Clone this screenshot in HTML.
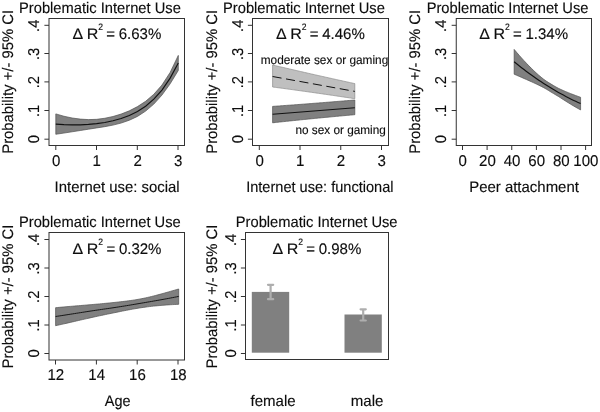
<!DOCTYPE html>
<html lang="en"><head><meta charset="utf-8"><title>Problematic Internet Use</title>
<style>html,body{margin:0;padding:0;background:#fff}svg{display:block}text{font-family:"Liberation Sans",sans-serif;fill:#0d0d0d;stroke:#0d0d0d;stroke-width:0.14px;text-rendering:geometricPrecision}</style>
</head><body>
<svg width="600" height="412" viewBox="0 0 600 412">
<rect width="600" height="412" fill="#ffffff"/>
<path d="M55.80,113.88 L63.97,116.25 L72.13,117.99 L80.30,119.11 L88.47,119.60 L96.63,119.33 L104.80,118.26 L112.97,116.51 L121.13,114.05 L129.30,110.83 L137.47,106.61 L145.63,101.30 L153.80,94.31 L161.97,85.04 L170.13,72.43 L178.30,55.41 L178.30,70.41 L170.13,83.83 L161.97,95.04 L153.80,104.11 L145.63,111.10 L137.47,116.41 L129.30,120.23 L121.13,123.05 L112.97,125.11 L104.80,126.66 L96.63,127.93 L88.47,129.20 L80.30,130.51 L72.13,131.79 L63.97,133.05 L55.80,134.28Z" fill="#808080" stroke="#505050" stroke-width="0.7" stroke-linejoin="miter"/>
<path d="M55.80,124.08 L63.97,124.65 L72.13,124.89 L80.30,124.81 L88.47,124.40 L96.63,123.63 L104.80,122.46 L112.97,120.81 L121.13,118.55 L129.30,115.53 L137.47,111.51 L145.63,106.20 L153.80,99.21 L161.97,90.04 L170.13,78.13 L178.30,62.91" fill="none" stroke="#111111" stroke-width="1.15"/>
<rect x="49" y="18.5" width="135.5" height="127.0" fill="none" stroke="#333333" stroke-width="1"/>
<line x1="44.4" y1="25.3" x2="49" y2="25.3" stroke="#333333" stroke-width="1"/>
<text x="39.20" y="31.91" font-size="15.7" textLength="12.31" lengthAdjust="spacingAndGlyphs" transform="rotate(-90 39.20 31.91)">.4</text>
<line x1="44.4" y1="53.5" x2="49" y2="53.5" stroke="#333333" stroke-width="1"/>
<text x="39.20" y="60.00" font-size="15.7" textLength="12.31" lengthAdjust="spacingAndGlyphs" transform="rotate(-90 39.20 60.00)">.3</text>
<line x1="44.4" y1="81.9" x2="49" y2="81.9" stroke="#333333" stroke-width="1"/>
<text x="39.20" y="88.36" font-size="15.7" textLength="12.31" lengthAdjust="spacingAndGlyphs" transform="rotate(-90 39.20 88.36)">.2</text>
<line x1="44.4" y1="110.5" x2="49" y2="110.5" stroke="#333333" stroke-width="1"/>
<text x="39.20" y="116.97" font-size="15.7" textLength="12.31" lengthAdjust="spacingAndGlyphs" transform="rotate(-90 39.20 116.97)">.1</text>
<line x1="44.4" y1="139.2" x2="49" y2="139.2" stroke="#333333" stroke-width="1"/>
<text x="39.20" y="143.30" font-size="15.7" textLength="8.21" lengthAdjust="spacingAndGlyphs" transform="rotate(-90 39.20 143.30)">0</text>
<line x1="55.8" y1="145.5" x2="55.8" y2="150.0" stroke="#333333" stroke-width="1"/>
<text x="51.91" y="165.70" font-size="15.7" textLength="8.38" lengthAdjust="spacingAndGlyphs">0</text>
<line x1="96.5" y1="145.5" x2="96.5" y2="150.0" stroke="#333333" stroke-width="1"/>
<text x="92.61" y="165.70" font-size="15.7" textLength="8.38" lengthAdjust="spacingAndGlyphs">1</text>
<line x1="137.3" y1="145.5" x2="137.3" y2="150.0" stroke="#333333" stroke-width="1"/>
<text x="133.41" y="165.70" font-size="15.7" textLength="8.38" lengthAdjust="spacingAndGlyphs">2</text>
<line x1="178" y1="145.5" x2="178" y2="150.0" stroke="#333333" stroke-width="1"/>
<text x="174.11" y="165.70" font-size="15.7" textLength="8.38" lengthAdjust="spacingAndGlyphs">3</text>
<text x="19.04" y="12.50" font-size="15.3" textLength="161.81" lengthAdjust="spacingAndGlyphs">Problematic Internet Use</text>
<text x="13.30" y="153.72" font-size="15.3" textLength="143.78" lengthAdjust="spacingAndGlyphs" transform="rotate(-90 13.30 153.72)">Probability +/- 95% CI</text>
<text x="54.62" y="192.20" font-size="15.3" textLength="125.07" lengthAdjust="spacingAndGlyphs">Internet use: social</text>
<text x="72.44" y="39.00" font-size="15.3" textLength="25.88" lengthAdjust="spacingAndGlyphs">Δ R</text>
<text x="98.17" y="30.00" font-size="9.4" textLength="4.76" lengthAdjust="spacingAndGlyphs">2</text>
<text x="106.37" y="39.00" font-size="15.3" textLength="8.77" lengthAdjust="spacingAndGlyphs">=</text>
<text x="118.74" y="39.00" font-size="15.3" textLength="42.60" lengthAdjust="spacingAndGlyphs">6.63%</text>
<path d="M272.60,65.00 L273.99,65.33 L275.39,65.65 L276.78,65.98 L278.17,66.31 L279.57,66.63 L280.96,66.96 L282.35,67.28 L283.75,67.61 L285.14,67.93 L286.53,68.26 L287.93,68.58 L289.32,68.90 L290.71,69.23 L292.11,69.55 L293.50,69.87 L294.89,70.19 L296.28,70.51 L297.68,70.83 L299.07,71.15 L300.46,71.47 L301.86,71.79 L303.25,72.11 L304.64,72.43 L306.04,72.75 L307.43,73.06 L308.82,73.38 L310.22,73.70 L311.61,74.01 L313.00,74.33 L314.40,74.64 L315.79,74.96 L317.18,75.27 L318.58,75.59 L319.97,75.90 L321.36,76.21 L322.76,76.53 L324.15,76.84 L325.54,77.15 L326.94,77.46 L328.33,77.77 L329.72,78.08 L331.12,78.39 L332.51,78.70 L333.90,79.01 L335.29,79.32 L336.69,79.63 L338.08,79.94 L339.47,80.25 L340.87,80.55 L342.26,80.86 L343.65,81.17 L345.05,81.47 L346.44,81.78 L347.83,82.08 L349.23,82.39 L350.62,82.69 L352.01,82.99 L353.41,83.30 L354.80,83.60 L354.80,98.70 L353.41,98.49 L352.01,98.27 L350.62,98.06 L349.23,97.85 L347.83,97.64 L346.44,97.43 L345.05,97.22 L343.65,97.01 L342.26,96.80 L340.87,96.59 L339.47,96.38 L338.08,96.18 L336.69,95.97 L335.29,95.76 L333.90,95.56 L332.51,95.35 L331.12,95.15 L329.72,94.94 L328.33,94.74 L326.94,94.54 L325.54,94.33 L324.15,94.13 L322.76,93.93 L321.36,93.73 L319.97,93.53 L318.58,93.33 L317.18,93.13 L315.79,92.93 L314.40,92.73 L313.00,92.53 L311.61,92.33 L310.22,92.13 L308.82,91.94 L307.43,91.74 L306.04,91.55 L304.64,91.35 L303.25,91.16 L301.86,90.96 L300.46,90.77 L299.07,90.57 L297.68,90.38 L296.28,90.19 L294.89,90.00 L293.50,89.81 L292.11,89.62 L290.71,89.43 L289.32,89.24 L287.93,89.05 L286.53,88.86 L285.14,88.67 L283.75,88.48 L282.35,88.30 L280.96,88.11 L279.57,87.92 L278.17,87.74 L276.78,87.55 L275.39,87.37 L273.99,87.18 L272.60,87.00Z" fill="#bfbfbf" stroke="#8c8c8c" stroke-width="0.7" stroke-linejoin="miter"/>
<path d="M272.60,76.50 L354.80,91.40" fill="none" stroke="#111111" stroke-width="1.0" stroke-dasharray="9.05 4.6"/>
<path d="M272.60,106.40 L273.99,106.30 L275.39,106.20 L276.78,106.10 L278.17,106.00 L279.57,105.90 L280.96,105.80 L282.35,105.70 L283.75,105.60 L285.14,105.50 L286.53,105.39 L287.93,105.29 L289.32,105.19 L290.71,105.09 L292.11,104.98 L293.50,104.88 L294.89,104.77 L296.28,104.67 L297.68,104.57 L299.07,104.46 L300.46,104.36 L301.86,104.25 L303.25,104.14 L304.64,104.04 L306.04,103.93 L307.43,103.82 L308.82,103.72 L310.22,103.61 L311.61,103.50 L313.00,103.39 L314.40,103.28 L315.79,103.18 L317.18,103.07 L318.58,102.96 L319.97,102.85 L321.36,102.74 L322.76,102.63 L324.15,102.52 L325.54,102.41 L326.94,102.29 L328.33,102.18 L329.72,102.07 L331.12,101.96 L332.51,101.85 L333.90,101.73 L335.29,101.62 L336.69,101.51 L338.08,101.39 L339.47,101.28 L340.87,101.16 L342.26,101.05 L343.65,100.93 L345.05,100.82 L346.44,100.70 L347.83,100.59 L349.23,100.47 L350.62,100.35 L352.01,100.24 L353.41,100.12 L354.80,100.00 L354.80,114.70 L353.41,114.82 L352.01,114.95 L350.62,115.07 L349.23,115.20 L347.83,115.32 L346.44,115.45 L345.05,115.58 L343.65,115.70 L342.26,115.83 L340.87,115.96 L339.47,116.09 L338.08,116.22 L336.69,116.35 L335.29,116.48 L333.90,116.61 L332.51,116.74 L331.12,116.87 L329.72,117.00 L328.33,117.13 L326.94,117.27 L325.54,117.40 L324.15,117.53 L322.76,117.67 L321.36,117.80 L319.97,117.94 L318.58,118.07 L317.18,118.21 L315.79,118.34 L314.40,118.48 L313.00,118.62 L311.61,118.76 L310.22,118.89 L308.82,119.03 L307.43,119.17 L306.04,119.31 L304.64,119.45 L303.25,119.59 L301.86,119.73 L300.46,119.87 L299.07,120.02 L297.68,120.16 L296.28,120.30 L294.89,120.44 L293.50,120.59 L292.11,120.73 L290.71,120.88 L289.32,121.02 L287.93,121.17 L286.53,121.31 L285.14,121.46 L283.75,121.61 L282.35,121.76 L280.96,121.90 L279.57,122.05 L278.17,122.20 L276.78,122.35 L275.39,122.50 L273.99,122.65 L272.60,122.80Z" fill="#808080" stroke="#505050" stroke-width="0.7" stroke-linejoin="miter"/>
<path d="M272.60,114.20 L354.80,107.80" fill="none" stroke="#111111" stroke-width="1.15"/>
<rect x="252.5" y="18.5" width="136.0" height="127.0" fill="none" stroke="#333333" stroke-width="1"/>
<line x1="247.9" y1="25.3" x2="252.5" y2="25.3" stroke="#333333" stroke-width="1"/>
<text x="242.70" y="31.91" font-size="15.7" textLength="12.31" lengthAdjust="spacingAndGlyphs" transform="rotate(-90 242.70 31.91)">.4</text>
<line x1="247.9" y1="53.5" x2="252.5" y2="53.5" stroke="#333333" stroke-width="1"/>
<text x="242.70" y="60.00" font-size="15.7" textLength="12.31" lengthAdjust="spacingAndGlyphs" transform="rotate(-90 242.70 60.00)">.3</text>
<line x1="247.9" y1="81.9" x2="252.5" y2="81.9" stroke="#333333" stroke-width="1"/>
<text x="242.70" y="88.36" font-size="15.7" textLength="12.31" lengthAdjust="spacingAndGlyphs" transform="rotate(-90 242.70 88.36)">.2</text>
<line x1="247.9" y1="110.5" x2="252.5" y2="110.5" stroke="#333333" stroke-width="1"/>
<text x="242.70" y="116.97" font-size="15.7" textLength="12.31" lengthAdjust="spacingAndGlyphs" transform="rotate(-90 242.70 116.97)">.1</text>
<line x1="247.9" y1="139.2" x2="252.5" y2="139.2" stroke="#333333" stroke-width="1"/>
<text x="242.70" y="143.30" font-size="15.7" textLength="8.21" lengthAdjust="spacingAndGlyphs" transform="rotate(-90 242.70 143.30)">0</text>
<line x1="259.3" y1="145.5" x2="259.3" y2="150.0" stroke="#333333" stroke-width="1"/>
<text x="255.41" y="165.70" font-size="15.7" textLength="8.38" lengthAdjust="spacingAndGlyphs">0</text>
<line x1="300" y1="145.5" x2="300" y2="150.0" stroke="#333333" stroke-width="1"/>
<text x="296.11" y="165.70" font-size="15.7" textLength="8.38" lengthAdjust="spacingAndGlyphs">1</text>
<line x1="340.75" y1="145.5" x2="340.75" y2="150.0" stroke="#333333" stroke-width="1"/>
<text x="336.86" y="165.70" font-size="15.7" textLength="8.38" lengthAdjust="spacingAndGlyphs">2</text>
<line x1="381.5" y1="145.5" x2="381.5" y2="150.0" stroke="#333333" stroke-width="1"/>
<text x="377.61" y="165.70" font-size="15.7" textLength="8.38" lengthAdjust="spacingAndGlyphs">3</text>
<text x="223.04" y="12.50" font-size="15.3" textLength="161.81" lengthAdjust="spacingAndGlyphs">Problematic Internet Use</text>
<text x="216.80" y="153.72" font-size="15.3" textLength="143.78" lengthAdjust="spacingAndGlyphs" transform="rotate(-90 216.80 153.72)">Probability +/- 95% CI</text>
<text x="246.16" y="192.20" font-size="15.3" textLength="147.32" lengthAdjust="spacingAndGlyphs">Internet use: functional</text>
<text x="275.94" y="39.00" font-size="15.3" textLength="25.88" lengthAdjust="spacingAndGlyphs">Δ R</text>
<text x="301.67" y="30.00" font-size="9.4" textLength="4.76" lengthAdjust="spacingAndGlyphs">2</text>
<text x="309.87" y="39.00" font-size="15.3" textLength="8.77" lengthAdjust="spacingAndGlyphs">=</text>
<text x="322.24" y="39.00" font-size="15.3" textLength="42.60" lengthAdjust="spacingAndGlyphs">4.46%</text>
<text x="260.71" y="63.80" font-size="12.2" textLength="127.55" lengthAdjust="spacingAndGlyphs">moderate sex or gaming</text>
<text x="295.42" y="134.30" font-size="12.2" textLength="90.44" lengthAdjust="spacingAndGlyphs">no sex or gaming</text>
<path d="M514.16,49.42 L516.62,52.34 L519.08,55.18 L521.54,57.96 L524.00,60.67 L526.46,63.31 L528.92,65.87 L531.38,68.34 L533.84,70.73 L536.30,73.02 L538.76,75.21 L541.22,77.29 L543.68,79.25 L546.14,81.03 L548.60,82.57 L551.06,84.08 L553.52,85.55 L555.98,86.99 L558.44,88.33 L560.90,89.49 L563.36,90.59 L565.82,91.64 L568.28,92.65 L570.74,93.63 L573.20,94.58 L575.66,95.51 L578.12,96.41 L580.58,97.30 L580.58,109.90 L578.12,108.55 L575.66,107.16 L573.20,105.72 L570.74,104.25 L568.28,102.74 L565.82,101.20 L563.36,99.64 L560.90,98.06 L558.44,96.48 L555.98,94.99 L553.52,93.55 L551.06,92.08 L548.60,90.57 L546.14,89.03 L543.68,87.65 L541.22,86.38 L538.76,85.17 L536.30,83.99 L533.84,82.85 L531.38,81.73 L528.92,80.63 L526.46,79.55 L524.00,78.47 L521.54,77.39 L519.08,76.32 L516.62,75.25 L514.16,74.18Z" fill="#808080" stroke="#505050" stroke-width="0.7" stroke-linejoin="miter"/>
<path d="M514.16,61.80 L516.62,63.79 L519.08,65.75 L521.54,67.68 L524.00,69.57 L526.46,71.43 L528.92,73.25 L531.38,75.04 L533.84,76.79 L536.30,78.51 L538.76,80.19 L541.22,81.84 L543.68,83.45 L546.14,85.03 L548.60,86.57 L551.06,88.08 L553.52,89.55 L555.98,90.99 L558.44,92.40 L560.90,93.77 L563.36,95.12 L565.82,96.42 L568.28,97.70 L570.74,98.94 L573.20,100.15 L575.66,101.33 L578.12,102.48 L580.58,103.60" fill="none" stroke="#111111" stroke-width="1.15"/>
<rect x="456.25" y="18.5" width="135.25" height="127.0" fill="none" stroke="#333333" stroke-width="1"/>
<line x1="451.65" y1="25.3" x2="456.25" y2="25.3" stroke="#333333" stroke-width="1"/>
<text x="446.45" y="31.91" font-size="15.7" textLength="12.31" lengthAdjust="spacingAndGlyphs" transform="rotate(-90 446.45 31.91)">.4</text>
<line x1="451.65" y1="53.5" x2="456.25" y2="53.5" stroke="#333333" stroke-width="1"/>
<text x="446.45" y="60.00" font-size="15.7" textLength="12.31" lengthAdjust="spacingAndGlyphs" transform="rotate(-90 446.45 60.00)">.3</text>
<line x1="451.65" y1="81.9" x2="456.25" y2="81.9" stroke="#333333" stroke-width="1"/>
<text x="446.45" y="88.36" font-size="15.7" textLength="12.31" lengthAdjust="spacingAndGlyphs" transform="rotate(-90 446.45 88.36)">.2</text>
<line x1="451.65" y1="110.5" x2="456.25" y2="110.5" stroke="#333333" stroke-width="1"/>
<text x="446.45" y="116.97" font-size="15.7" textLength="12.31" lengthAdjust="spacingAndGlyphs" transform="rotate(-90 446.45 116.97)">.1</text>
<line x1="451.65" y1="139.2" x2="456.25" y2="139.2" stroke="#333333" stroke-width="1"/>
<text x="446.45" y="143.30" font-size="15.7" textLength="8.21" lengthAdjust="spacingAndGlyphs" transform="rotate(-90 446.45 143.30)">0</text>
<line x1="462.5" y1="145.5" x2="462.5" y2="150.0" stroke="#333333" stroke-width="1"/>
<text x="458.61" y="165.70" font-size="15.7" textLength="8.38" lengthAdjust="spacingAndGlyphs">0</text>
<line x1="487.1" y1="145.5" x2="487.1" y2="150.0" stroke="#333333" stroke-width="1"/>
<text x="479.02" y="165.70" font-size="15.7" textLength="16.76" lengthAdjust="spacingAndGlyphs">20</text>
<line x1="511.75" y1="145.5" x2="511.75" y2="150.0" stroke="#333333" stroke-width="1"/>
<text x="503.67" y="165.70" font-size="15.7" textLength="16.76" lengthAdjust="spacingAndGlyphs">40</text>
<line x1="536.4" y1="145.5" x2="536.4" y2="150.0" stroke="#333333" stroke-width="1"/>
<text x="528.32" y="165.70" font-size="15.7" textLength="16.76" lengthAdjust="spacingAndGlyphs">60</text>
<line x1="561" y1="145.5" x2="561" y2="150.0" stroke="#333333" stroke-width="1"/>
<text x="552.92" y="165.70" font-size="15.7" textLength="16.76" lengthAdjust="spacingAndGlyphs">80</text>
<line x1="585.6" y1="145.5" x2="585.6" y2="150.0" stroke="#333333" stroke-width="1"/>
<text x="573.33" y="165.70" font-size="15.7" textLength="25.15" lengthAdjust="spacingAndGlyphs">100</text>
<text x="426.64" y="12.50" font-size="15.3" textLength="161.81" lengthAdjust="spacingAndGlyphs">Problematic Internet Use</text>
<text x="420.05" y="153.72" font-size="15.3" textLength="143.78" lengthAdjust="spacingAndGlyphs" transform="rotate(-90 420.05 153.72)">Probability +/- 95% CI</text>
<text x="469.17" y="191.90" font-size="15.3" textLength="109.74" lengthAdjust="spacingAndGlyphs">Peer attachment</text>
<text x="479.19" y="39.00" font-size="15.3" textLength="25.88" lengthAdjust="spacingAndGlyphs">Δ R</text>
<text x="504.92" y="30.00" font-size="9.4" textLength="4.76" lengthAdjust="spacingAndGlyphs">2</text>
<text x="513.12" y="39.00" font-size="15.3" textLength="8.77" lengthAdjust="spacingAndGlyphs">=</text>
<text x="525.49" y="39.00" font-size="15.3" textLength="42.60" lengthAdjust="spacingAndGlyphs">1.34%</text>
<path d="M55.60,307.70 L57.69,307.50 L59.77,307.31 L61.86,307.12 L63.95,306.93 L66.03,306.75 L68.12,306.57 L70.21,306.39 L72.29,306.22 L74.38,306.04 L76.46,305.87 L78.55,305.70 L80.64,305.52 L82.72,305.35 L84.81,305.17 L86.90,305.00 L88.98,304.82 L91.07,304.64 L93.16,304.46 L95.24,304.28 L97.33,304.09 L99.42,303.90 L101.50,303.71 L103.59,303.51 L105.67,303.31 L107.76,303.10 L109.85,302.90 L111.93,302.68 L114.02,302.47 L116.11,302.25 L118.19,302.03 L120.28,301.80 L122.37,301.56 L124.45,301.32 L126.54,301.06 L128.63,300.79 L130.71,300.51 L132.80,300.20 L134.88,299.88 L136.97,299.54 L139.06,299.17 L141.14,298.78 L143.23,298.36 L145.32,297.92 L147.40,297.46 L149.49,296.98 L151.58,296.47 L153.66,295.95 L155.75,295.42 L157.84,294.87 L159.92,294.31 L162.01,293.74 L164.09,293.16 L166.18,292.57 L168.27,291.98 L170.35,291.38 L172.44,290.78 L174.53,290.19 L176.61,289.59 L178.70,289.00 L178.70,304.30 L176.61,304.40 L174.53,304.51 L172.44,304.62 L170.35,304.74 L168.27,304.88 L166.18,305.02 L164.09,305.17 L162.01,305.34 L159.92,305.52 L157.84,305.71 L155.75,305.91 L153.66,306.12 L151.58,306.35 L149.49,306.59 L147.40,306.85 L145.32,307.13 L143.23,307.42 L141.14,307.72 L139.06,308.05 L136.97,308.39 L134.88,308.75 L132.80,309.12 L130.71,309.50 L128.63,309.89 L126.54,310.29 L124.45,310.70 L122.37,311.12 L120.28,311.54 L118.19,311.96 L116.11,312.38 L114.02,312.81 L111.93,313.23 L109.85,313.66 L107.76,314.09 L105.67,314.53 L103.59,314.96 L101.50,315.40 L99.42,315.85 L97.33,316.29 L95.24,316.75 L93.16,317.20 L91.07,317.67 L88.98,318.13 L86.90,318.60 L84.81,319.08 L82.72,319.55 L80.64,320.03 L78.55,320.51 L76.46,320.99 L74.38,321.47 L72.29,321.95 L70.21,322.43 L68.12,322.90 L66.03,323.38 L63.95,323.85 L61.86,324.32 L59.77,324.78 L57.69,325.24 L55.60,325.70Z" fill="#808080" stroke="#505050" stroke-width="0.7" stroke-linejoin="miter"/>
<path d="M55.60,316.50 L57.69,316.19 L59.77,315.88 L61.86,315.56 L63.95,315.24 L66.03,314.92 L68.12,314.59 L70.21,314.26 L72.29,313.93 L74.38,313.60 L76.46,313.27 L78.55,312.94 L80.64,312.61 L82.72,312.29 L84.81,311.96 L86.90,311.63 L88.98,311.31 L91.07,310.99 L93.16,310.68 L95.24,310.36 L97.33,310.06 L99.42,309.75 L101.50,309.45 L103.59,309.15 L105.67,308.85 L107.76,308.55 L109.85,308.24 L111.93,307.94 L114.02,307.63 L116.11,307.31 L118.19,306.99 L120.28,306.67 L122.37,306.34 L124.45,306.00 L126.54,305.66 L128.63,305.32 L130.71,304.97 L132.80,304.62 L134.88,304.27 L136.97,303.91 L139.06,303.56 L141.14,303.21 L143.23,302.85 L145.32,302.50 L147.40,302.14 L149.49,301.78 L151.58,301.43 L153.66,301.06 L155.75,300.70 L157.84,300.33 L159.92,299.96 L162.01,299.59 L164.09,299.21 L166.18,298.83 L168.27,298.44 L170.35,298.04 L172.44,297.64 L174.53,297.24 L176.61,296.82 L178.70,296.40" fill="none" stroke="#111111" stroke-width="0.95"/>
<rect x="49.0" y="232.5" width="135.5" height="127.5" fill="none" stroke="#333333" stroke-width="1"/>
<line x1="44.4" y1="239.5" x2="49.0" y2="239.5" stroke="#333333" stroke-width="1"/>
<text x="39.20" y="246.11" font-size="15.7" textLength="12.31" lengthAdjust="spacingAndGlyphs" transform="rotate(-90 39.20 246.11)">.4</text>
<line x1="44.4" y1="268.0" x2="49.0" y2="268.0" stroke="#333333" stroke-width="1"/>
<text x="39.20" y="274.50" font-size="15.7" textLength="12.31" lengthAdjust="spacingAndGlyphs" transform="rotate(-90 39.20 274.50)">.3</text>
<line x1="44.4" y1="296.5" x2="49.0" y2="296.5" stroke="#333333" stroke-width="1"/>
<text x="39.20" y="302.96" font-size="15.7" textLength="12.31" lengthAdjust="spacingAndGlyphs" transform="rotate(-90 39.20 302.96)">.2</text>
<line x1="44.4" y1="325.0" x2="49.0" y2="325.0" stroke="#333333" stroke-width="1"/>
<text x="39.20" y="331.47" font-size="15.7" textLength="12.31" lengthAdjust="spacingAndGlyphs" transform="rotate(-90 39.20 331.47)">.1</text>
<line x1="44.4" y1="353.5" x2="49.0" y2="353.5" stroke="#333333" stroke-width="1"/>
<text x="39.20" y="357.60" font-size="15.7" textLength="8.21" lengthAdjust="spacingAndGlyphs" transform="rotate(-90 39.20 357.60)">0</text>
<line x1="55.5" y1="360.0" x2="55.5" y2="364.5" stroke="#333333" stroke-width="1"/>
<text x="47.42" y="380.20" font-size="15.7" textLength="16.76" lengthAdjust="spacingAndGlyphs">12</text>
<line x1="96.4" y1="360.0" x2="96.4" y2="364.5" stroke="#333333" stroke-width="1"/>
<text x="88.32" y="380.20" font-size="15.7" textLength="16.76" lengthAdjust="spacingAndGlyphs">14</text>
<line x1="137.2" y1="360.0" x2="137.2" y2="364.5" stroke="#333333" stroke-width="1"/>
<text x="129.12" y="380.20" font-size="15.7" textLength="16.76" lengthAdjust="spacingAndGlyphs">16</text>
<line x1="178" y1="360.0" x2="178" y2="364.5" stroke="#333333" stroke-width="1"/>
<text x="169.92" y="380.20" font-size="15.7" textLength="16.76" lengthAdjust="spacingAndGlyphs">18</text>
<text x="18.99" y="227.30" font-size="15.3" textLength="161.76" lengthAdjust="spacingAndGlyphs">Problematic Internet Use</text>
<text x="13.30" y="368.42" font-size="15.3" textLength="143.78" lengthAdjust="spacingAndGlyphs" transform="rotate(-90 13.30 368.42)">Probability +/- 95% CI</text>
<text x="104.77" y="405.70" font-size="15.3" textLength="25.77" lengthAdjust="spacingAndGlyphs">Age</text>
<text x="72.59" y="253.80" font-size="15.3" textLength="25.88" lengthAdjust="spacingAndGlyphs">Δ R</text>
<text x="98.32" y="244.80" font-size="9.4" textLength="4.76" lengthAdjust="spacingAndGlyphs">2</text>
<text x="106.52" y="253.80" font-size="15.3" textLength="8.77" lengthAdjust="spacingAndGlyphs">=</text>
<text x="118.89" y="253.80" font-size="15.3" textLength="42.60" lengthAdjust="spacingAndGlyphs">0.32%</text>
<rect x="251.8" y="291.9" width="37.4" height="60.8" fill="#808080"/>
<rect x="344.5" y="314.5" width="37.3" height="38.2" fill="#808080"/>
<path d="M268.0,284.8 H273.20000000000005 M270.6,284.8 V299.2 M268.0,299.2 H273.20000000000005" stroke="#aeaeae" stroke-width="2.2" stroke-linecap="round" fill="none"/>
<path d="M360.59999999999997,309.3 H365.8 M363.2,309.3 V320.5 M360.59999999999997,320.5 H365.8" stroke="#aeaeae" stroke-width="2.2" stroke-linecap="round" fill="none"/>
<rect x="245.5" y="232.5" width="143.0" height="127.0" fill="none" stroke="#333333" stroke-width="1"/>
<line x1="240.9" y1="239.5" x2="245.5" y2="239.5" stroke="#333333" stroke-width="1"/>
<text x="235.70" y="246.11" font-size="15.7" textLength="12.31" lengthAdjust="spacingAndGlyphs" transform="rotate(-90 235.70 246.11)">.4</text>
<line x1="240.9" y1="268.0" x2="245.5" y2="268.0" stroke="#333333" stroke-width="1"/>
<text x="235.70" y="274.50" font-size="15.7" textLength="12.31" lengthAdjust="spacingAndGlyphs" transform="rotate(-90 235.70 274.50)">.3</text>
<line x1="240.9" y1="296.5" x2="245.5" y2="296.5" stroke="#333333" stroke-width="1"/>
<text x="235.70" y="302.96" font-size="15.7" textLength="12.31" lengthAdjust="spacingAndGlyphs" transform="rotate(-90 235.70 302.96)">.2</text>
<line x1="240.9" y1="325.0" x2="245.5" y2="325.0" stroke="#333333" stroke-width="1"/>
<text x="235.70" y="331.47" font-size="15.7" textLength="12.31" lengthAdjust="spacingAndGlyphs" transform="rotate(-90 235.70 331.47)">.1</text>
<line x1="240.9" y1="353.5" x2="245.5" y2="353.5" stroke="#333333" stroke-width="1"/>
<text x="235.70" y="357.60" font-size="15.7" textLength="8.21" lengthAdjust="spacingAndGlyphs" transform="rotate(-90 235.70 357.60)">0</text>
<text x="235.79" y="227.30" font-size="15.3" textLength="161.76" lengthAdjust="spacingAndGlyphs">Problematic Internet Use</text>
<text x="216.80" y="368.42" font-size="15.3" textLength="143.78" lengthAdjust="spacingAndGlyphs" transform="rotate(-90 216.80 368.42)">Probability +/- 95% CI</text>
<text x="272.44" y="253.80" font-size="15.3" textLength="25.88" lengthAdjust="spacingAndGlyphs">Δ R</text>
<text x="298.17" y="244.80" font-size="9.4" textLength="4.76" lengthAdjust="spacingAndGlyphs">2</text>
<text x="306.37" y="253.80" font-size="15.3" textLength="8.77" lengthAdjust="spacingAndGlyphs">=</text>
<text x="318.74" y="253.80" font-size="15.3" textLength="42.60" lengthAdjust="spacingAndGlyphs">0.98%</text>
<text x="250.49" y="405.70" font-size="15.3" textLength="45.18" lengthAdjust="spacingAndGlyphs">female</text>
<text x="350.70" y="405.70" font-size="15.3" textLength="32.67" lengthAdjust="spacingAndGlyphs">male</text>
</svg></body></html>
